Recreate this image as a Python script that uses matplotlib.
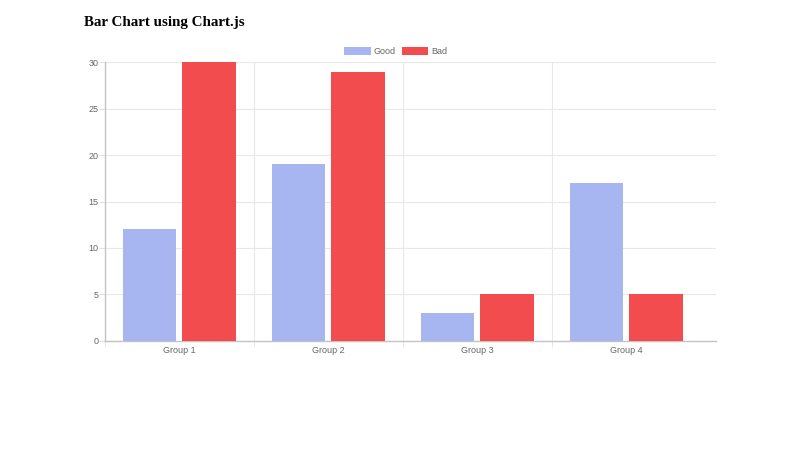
import matplotlib
matplotlib.use("Agg")
import matplotlib.pyplot as plt
import numpy as np

categories = ["Group 1", "Group 2", "Group 3", "Group 4"]
good = [12, 19, 3, 17]
bad = [30, 29, 5, 5]
yticks = [0, 5, 10, 15, 20, 25, 30]

plt.rcParams['font.family'] = ['Liberation Sans', 'DejaVu Sans']

fig = plt.figure(figsize=(8, 4.5), dpi=100)
ax = fig.add_axes([105/800, 1-340.7/450, 610.5/800, (340.7-62.3)/450])

x = np.arange(len(categories))
cat_pct, bar_pct = 0.8, 0.9
slot = cat_pct / 2
bw = slot * bar_pct
ax.bar(x - slot/2, good, bw, color="#a7b6f0", label="Good", zorder=3)
ax.bar(x + slot/2, bad, bw, color="#f24c4e", label="Bad", zorder=3)

ax.set_xlim(-0.5, len(categories) - 0.5 + 0.099)
ax.set_ylim(0, 30)
ax.set_yticks(yticks)
ax.set_xticks(x)
ax.set_xticklabels(categories)
ax.set_xticks(np.arange(len(categories)) - 0.5, minor=True)
ax.tick_params(axis='x', which='major', length=0, pad=4, labelsize=6.5, labelcolor="#666666")
ax.tick_params(axis='x', which='minor', length=4, color="#e0e0e0")
ax.tick_params(axis='y', length=4, color="#e0e0e0", pad=0.5, labelsize=6.5, labelcolor="#666666")
ax.grid(True, axis='y', color="#e8e8e8", linewidth=0.8, zorder=0)
ax.grid(True, axis='x', which='minor', color="#e8e8e8", linewidth=0.8, zorder=0)
for s in ['top', 'right']:
    ax.spines[s].set_visible(False)
for s in ['left', 'bottom']:
    ax.spines[s].set_color("#c4c4c4")
    ax.spines[s].set_linewidth(1)

leg = fig.legend(loc='lower center', bbox_to_anchor=(396/800, 1-56/450), ncol=2, frameon=False,
                 fontsize=6.5, handlelength=2.9, handleheight=0.9, handletextpad=0.35,
                 columnspacing=0.7, borderaxespad=0.0, borderpad=0.0)
for t in leg.get_texts():
    t.set_color("#666666")

fig.text(84/800, 1-26/450, "Bar Chart using Chart.js", fontsize=10.8, fontweight='bold',
         family=['Liberation Serif', 'DejaVu Serif'], ha='left', va='baseline')

fig.savefig("out.png", dpi=100)
